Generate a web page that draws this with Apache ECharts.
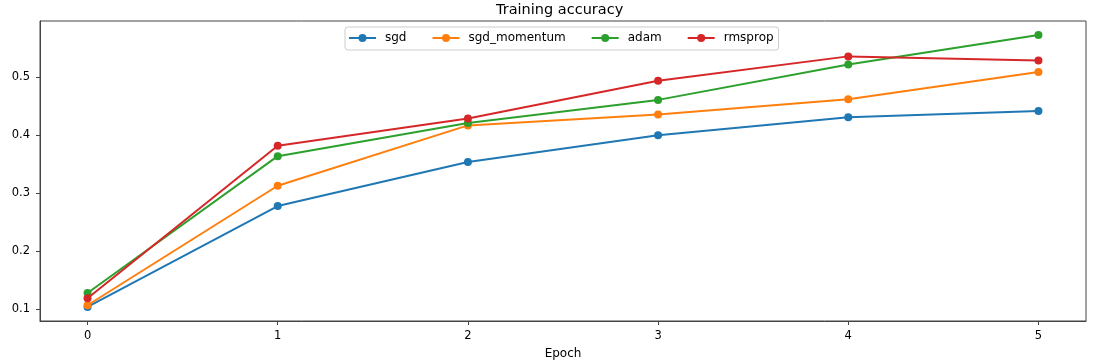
<!DOCTYPE html>
<html>
<head>
<meta charset="utf-8">
<script src="https://cdn.jsdelivr.net/npm/echarts@6/dist/echarts.min.js"></script>
<style>html,body{margin:0;padding:0;background:#fff}#c{width:1100px;height:362px}</style>
</head>
<body>
<div id="c"></div>
<script>
const epochs = [0, 1, 2, 3, 4, 5];
const sgd = [0.104, 0.278, 0.354, 0.400, 0.431, 0.442];
const sgdMomentum = [0.107, 0.313, 0.417, 0.436, 0.462, 0.509];
const adam = [0.128, 0.364, 0.421, 0.461, 0.522, 0.573];
const rmsprop = [0.119, 0.382, 0.429, 0.494, 0.536, 0.529];
const xTicks = [0, 1, 2, 3, 4, 5];
const yTicks = [0.1, 0.2, 0.3, 0.4, 0.5];

const names = ['sgd', 'sgd_momentum', 'adam', 'rmsprop'];
const colors = ['#1f77b4', '#ff7f0e', '#2ca02c', '#d62728'];
const allData = [sgd, sgdMomentum, adam, rmsprop];
const FONT = 'DejaVu Sans';

const chart = echarts.init(document.getElementById('c'), null, {renderer: 'canvas'});
chart.setOption({
  animation: false,
  backgroundColor: '#fff',
  textStyle: {fontFamily: FONT},
  title: {
    text: 'Training accuracy', left: 496, top: 3, padding: 0,
    textStyle: {fontFamily: FONT, fontSize: 14.5, fontWeight: 'normal', color: '#000'}
  },
  legend: {
    data: names, left: 345, top: 27,
    padding: [5, 5, 6, 3],
    itemWidth: 27, itemHeight: 10, itemGap: 25,
    borderColor: '#cccccc', borderWidth: 1, borderRadius: 3,
    backgroundColor: 'rgba(255,255,255,0.8)',
    textStyle: {fontFamily: FONT, fontSize: 12, color: '#000', padding: [0, 0, 0, 4]}
  },
  grid: {left: 40, right: 14, top: 21, bottom: 41, show: true, borderColor: '#444', borderWidth: 1,
         containLabel: false, outerBoundsMode: 'none'},
  xAxis: {
    type: 'value', min: -0.25, max: 5.25,
    name: 'Epoch', nameLocation: 'middle', nameGap: 27,
    nameTextStyle: {fontFamily: FONT, fontSize: 12, color: '#000'},
    axisLine: {show: true, onZero: false, lineStyle: {color: '#444'}},
    axisTick: {show: true, length: 4, lineStyle: {color: '#444'}, customValues: xTicks},
    axisLabel: {fontFamily: FONT, fontSize: 11.5, color: '#000', margin: 9, customValues: xTicks, formatter: v => String(v)},
    splitLine: {show: false}
  },
  yAxis: {
    type: 'value', min: 0.0798, max: 0.597,
    axisLine: {show: true, onZero: false, lineStyle: {color: '#444'}},
    axisTick: {show: true, length: 4, lineStyle: {color: '#444'}, customValues: yTicks},
    axisLabel: {fontFamily: FONT, fontSize: 11.5, color: '#000', margin: 10, customValues: yTicks, formatter: v => v.toFixed(1)},
    splitLine: {show: false}
  },
  series: names.map((n, i) => ({
    name: n, type: 'line',
    data: epochs.map((e, j) => [e, allData[i][j]]),
    symbol: 'circle', symbolSize: 8,
    lineStyle: {width: 2, color: colors[i]},
    itemStyle: {color: colors[i]},
    z: 2 + i
  }))
});
</script>
</body>
</html>
